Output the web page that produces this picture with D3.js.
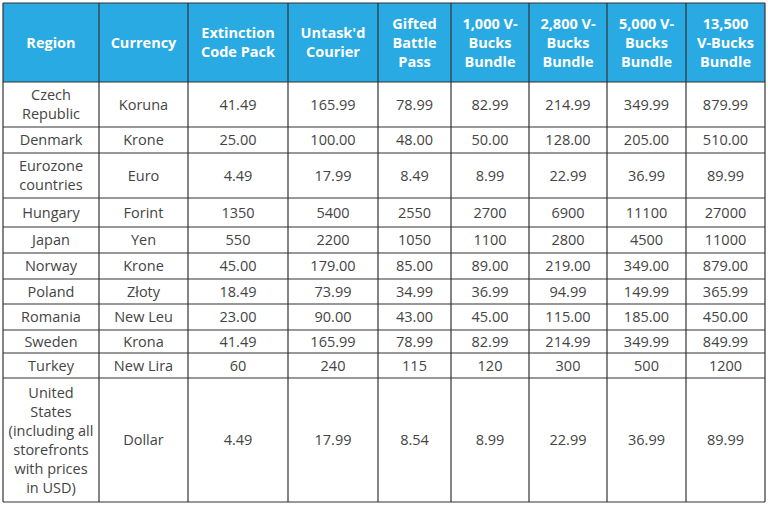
<!DOCTYPE html>
<html><head><meta charset="utf-8">
<script src="https://cdn.jsdelivr.net/npm/d3@7"></script>
<style>body{margin:0;background:#fff}</style></head><body>
<svg id="c" width="768" height="505"></svg>
<script>
const headers = [["Region"],["Currency"],["Extinction","Code Pack"],["Untask'd","Courier"],["Gifted","Battle","Pass"],["1,000 V-","Bucks","Bundle"],["2,800 V-","Bucks","Bundle"],["5,000 V-","Bucks","Bundle"],["13,500","V-Bucks","Bundle"]];
const regions = [["Czech","Republic"],["Denmark"],["Eurozone","countries"],["Hungary"],["Japan"],["Norway"],["Poland"],["Romania"],["Sweden"],["Turkey"],["United","States","(including all","storefronts","with prices","in USD)"]];
const currencies = ["Koruna","Krone","Euro","Forint","Yen","Krone","Złoty","New Leu","Krona","New Lira","Dollar"];
const extinction = ["41.49","25.00","4.49","1350","550","45.00","18.49","23.00","41.49","60","4.49"];
const courier = ["165.99","100.00","17.99","5400","2200","179.00","73.99","90.00","165.99","240","17.99"];
const battlePass = ["78.99","48.00","8.49","2550","1050","85.00","34.99","43.00","78.99","115","8.54"];
const vb1000 = ["82.99","50.00","8.99","2700","1100","89.00","36.99","45.00","82.99","120","8.99"];
const vb2800 = ["214.99","128.00","22.99","6900","2800","219.00","94.99","115.00","214.99","300","22.99"];
const vb5000 = ["349.99","205.00","36.99","11100","4500","349.00","149.99","185.00","349.99","500","36.99"];
const vb13500 = ["879.99","510.00","89.99","27000","11000","879.00","365.99","450.00","849.99","1200","89.99"];

const colX = [3,99,188,288,378,451,529,607,686,765];
const rowY = [3,82,127,153,198,227,253,279,304,330,353,378,502];
const lh = 19;
const svg = d3.select("#c");
const cols = [regions, currencies.map(d=>[d]), extinction, courier, battlePass, vb1000, vb2800, vb5000, vb13500].map(c=>c.map(v=>Array.isArray(v)?v:[v]));

svg.append("rect").attr("x",colX[0]).attr("y",rowY[0]).attr("width",colX[9]-colX[0]).attr("height",rowY[1]-rowY[0]).attr("fill","#29aae2");

function cellText(lines, ci, ri, hdr){
  const cx=(colX[ci]+colX[ci+1])/2, cy=(rowY[ri]+rowY[ri+1])/2;
  const t=svg.append("text").attr("text-anchor","middle")
    .attr("font-family","Open Sans").attr("font-size",hdr?14.5:14.5)
    .attr("font-weight",hdr?"bold":"normal").attr("fill",hdr?"#fff":"#444");
  lines.forEach((l,i)=>t.append("tspan").attr("x",cx)
    .attr("y",cy+(i-(lines.length-1)/2)*lh+5).text(l));
}
headers.forEach((h,ci)=>cellText(h,ci,0,true));
cols.forEach((col,ci)=>col.forEach((v,ri)=>cellText(v,ci,ri+1,false)));

const g=svg.append("g").attr("stroke","#333").attr("stroke-width",1.2);
colX.forEach(x=>g.append("line").attr("x1",x).attr("x2",x).attr("y1",rowY[0]).attr("y2",rowY[12]));
rowY.forEach(y=>g.append("line").attr("x1",colX[0]).attr("x2",colX[9]).attr("y1",y).attr("y2",y));
</script></body></html>
